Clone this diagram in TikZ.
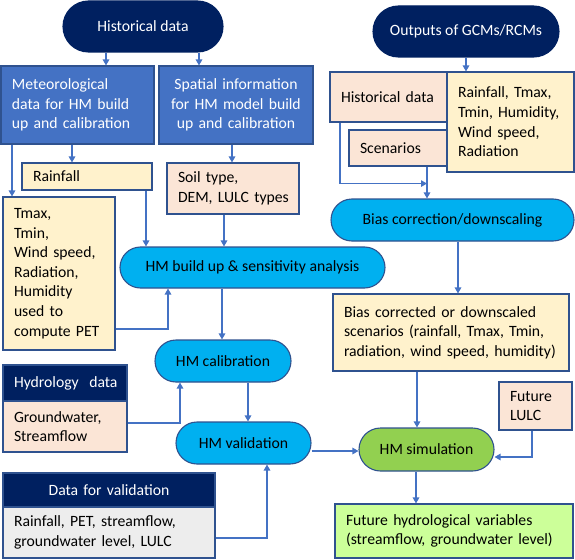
\documentclass[tikz,border=0pt]{standalone}
\usepackage{fontspec}
\setmainfont{Carlito}
\usetikzlibrary{shapes.misc,arrows.meta}
\definecolor{navy}{HTML}{002060}
\definecolor{mblue}{HTML}{4472C4}
\definecolor{bdr}{HTML}{2F528F}
\definecolor{cyanf}{HTML}{00B0F0}
\definecolor{yel}{HTML}{FFF2CC}
\definecolor{pnk}{HTML}{FBE5D6}
\definecolor{gry}{HTML}{EDEDED}
\definecolor{grn}{HTML}{92D050}
\definecolor{lgrn}{HTML}{CCFF99}
\begin{document}
\begin{tikzpicture}[x=1pt,y=-1pt,
  font=\fontsize{15.7}{19.6}\selectfont,
  stad/.style={rounded rectangle, draw=bdr, line width=1.1pt, inner sep=0pt, align=center},
  navystad/.style={stad, fill=navy, draw=navy, text=white},
  cyanstad/.style={stad, fill=cyanf},
  box/.style={rectangle, draw=bdr, line width=1.1pt, inner xsep=11pt, inner ysep=0pt, align=left},
  bluebox/.style={box, fill=mblue, text=white},
  navybox/.style={box, fill=navy, draw=bdr, text=white},
  arr/.style={draw=mblue, line width=1.3pt, -{Triangle[length=6pt,width=6.5pt]}}
]
\useasboundingbox (0,0) rectangle (575,559);

% left column
\node[navystad, minimum width=160pt, minimum height=51pt] (hist) at (143,26.5) {Historical data};
\node[bluebox, text width=131pt, minimum height=78pt] (met) at (77.5,105) {Meteorological\\data~for~HM~build\\up~and~calibration};
\node[bluebox, text width=132pt, minimum height=78pt, align=center] (spat) at (236,105) {Spatial~information\\for~HM~model~build\\up~and~calibration};
\node[box, fill=yel, text width=108pt, minimum height=27pt] (rain) at (87,176.5) {Rainfall};
\node[box, fill=yel, text width=90pt, minimum height=153pt] (tmax) at (59,273.5) {Tmax,\\Tmin,\\Wind~speed,\\Radiation,\\Humidity\\used~to\\compute~PET};
\node[box, fill=pnk, text width=110pt, minimum height=51pt] (soil) at (233,188.5) {Soil~type,\\DEM,~LULC~types};
\node[cyanstad, minimum width=265pt, minimum height=41pt] (hmb) at (252.5,267.5) {HM build up \& sensitivity analysis};
\node[cyanstad, minimum width=136pt, minimum height=42pt] (cal) at (223,361) {HM calibration};
\node[navybox, text width=102pt, minimum height=36pt] (hyd) at (65,383) {Hydrology~~data};
\node[box, fill=pnk, text width=102pt, minimum height=51pt] (gw) at (65,426.5) {Groundwater,\\Streamflow};
\node[cyanstad, minimum width=135pt, minimum height=42pt] (val) at (243.5,443) {HM validation};
\node[navybox, text width=190pt, minimum height=34pt, align=center] (dv) at (109,490) {Data for validation};
\node[box, fill=gry, text width=190pt, minimum height=51pt] (dvb) at (109,532.5) {Rainfall,~PET,~streamflow,\\groundwater~level,~LULC};

% right column
\node[navystad, minimum width=186pt, minimum height=51pt] (gcm) at (466,31.5) {Outputs of GCMs/RCMs};
\node[box, fill=pnk, text width=95pt, minimum height=50pt] (hist2) at (388.5,97) {Historical~data\\[4pt]};
\node[box, fill=pnk, text width=76pt, minimum height=36pt] (scen) at (398,148) {Scenarios};
\node[box, fill=yel, text width=105pt, minimum height=100pt] (vars) at (510.5,122) {Rainfall,~Tmax,\\Tmin,~Humidity,\\Wind~speed,\\Radiation};
\node[cyanstad, minimum width=243pt, minimum height=42pt] (bias) at (452.5,220) {Bias correction/downscaling};
\node[box, fill=yel, text width=214pt, minimum height=77pt] (bcs) at (451,332.5) {Bias~corrected~or~downscaled\\scenarios~(rainfall,~Tmax,~Tmin,\\radiation,~wind~speed,~humidity)};
\node[box, fill=pnk, text width=51pt, minimum height=48pt] (flulc) at (535.5,406) {Future\\LULC};
\node[stad, fill=grn, minimum width=135pt, minimum height=43pt] (sim) at (426.5,449.5) {HM simulation};
\node[box, fill=lgrn, text width=216pt, minimum height=54pt] (fut) at (454,531) {Future~hydrological~variables\\(streamflow,~groundwater~level)};

% connectors left
\draw[arr] ([xshift=-37pt]hist.south) -- ([xshift=-37pt]hist.south |- met.north);
\draw[arr] ([xshift=56pt]hist.south) -- ([xshift=56pt]hist.south |- spat.north);
\draw[arr] ([xshift=-65.5pt]met.south) -- ([xshift=-65.5pt]met.south |- tmax.north);
\draw[arr] ([xshift=-5.5pt]met.south) -- ([xshift=-5.5pt]met.south |- rain.north);
\draw[arr] ([xshift=-4pt]spat.south) -- ([xshift=-4pt]spat.south |- soil.north);
\draw[arr] ([xshift=59pt]rain.south) -- ([xshift=59pt]rain.south |- hmb.north);
\draw[arr] ([xshift=-9pt]soil.south) -- ([xshift=-9pt]soil.south |- hmb.north);
\draw[arr] ([yshift=-55.5pt]tmax.east) -| ([xshift=-84.5pt]hmb.south);
\draw[arr] ([xshift=-1pt]cal.north |- hmb.south) -- ([xshift=-1pt]cal.north);
\draw[arr] ([yshift=3.5pt]gw.east) -| ([xshift=-43pt]cal.south);
\draw[arr] ([xshift=25pt]cal.south) -- ([xshift=25pt]cal.south |- val.north);
\draw[arr] ([yshift=-5.5pt]dvb.east) -| ([xshift=23.5pt]val.south);
\draw[arr] ([yshift=-8pt]val.east) -- ([yshift=-8pt]val.east -| sim.west);

% connectors right
\draw[arr] (gcm.south) -- (gcm.south |- vars.north);
\draw[arr] ([xshift=-48.5pt]hist2.south) |- ([xshift=29pt,yshift=-17pt]scen.south);
\draw[arr] ([xshift=29pt]scen.south) -- ([xshift=29pt]scen.south |- bias.north);
\draw[arr] ([xshift=5.5pt]bias.south) -- ([xshift=5.5pt]bias.south |- bcs.north);
\draw[arr] ([xshift=-9.5pt]sim.north |- bcs.south) -- ([xshift=-9.5pt]sim.north);
\draw[arr] ([xshift=-3.5pt]flulc.south) |- ([yshift=-7.5pt]sim.east);
\draw[arr] ([xshift=-10.5pt]sim.south) -- ([xshift=-10.5pt]sim.south |- fut.north);
\end{tikzpicture}
\end{document}
